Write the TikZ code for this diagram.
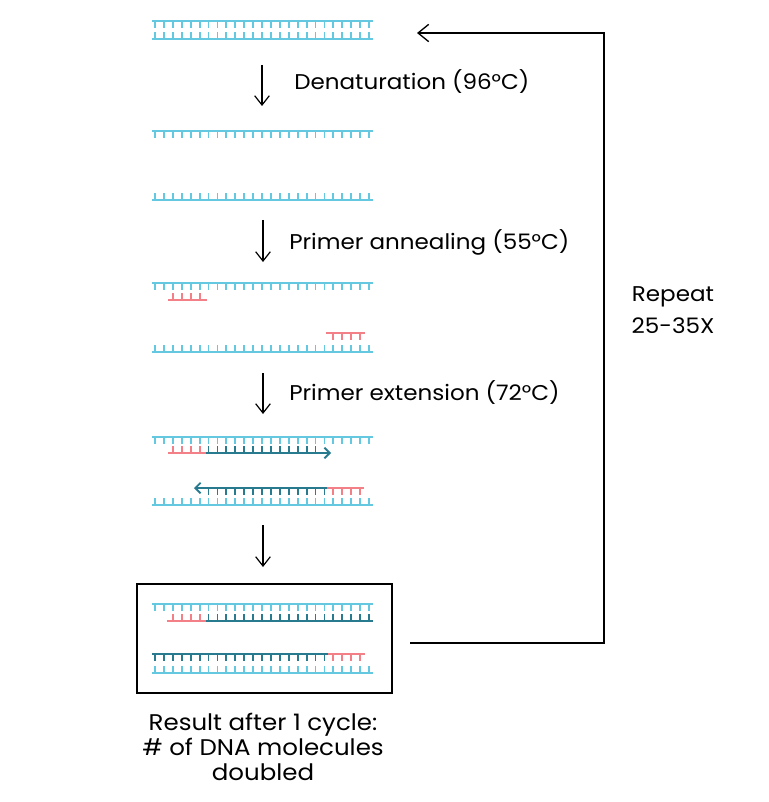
\documentclass[tikz,border=0pt]{standalone}
\usepackage{fontspec}
\setmainfont[FakeStretch=1.08]{Poppins}
\usetikzlibrary{arrows.meta}

\definecolor{dnablue}{RGB}{100,200,225}
\definecolor{primerred}{RGB}{242,128,134}
\definecolor{newteal}{RGB}{40,122,142}

\tikzset{
  strand/.style={line width=1.4pt},
  flow/.style={-{Straight Barb[length=7pt,width=11pt]}, line width=0.9pt},
  growth/.style={-{Straight Barb[length=4pt,width=8pt]}},
  label/.style={anchor=west, inner sep=0pt}
}

% colour, y, x from, x to, first tick, last tick, tick length
\newcommand{\dnastrand}[7]{%
  \draw[strand,#1] (#3,#2) -- (#4,#2);
  \foreach \k in {#5,...,#6}
    \draw[strand,#1,-] ({155+8.92*\k},#2) -- ++(0,#7);
}

\begin{document}
\begin{tikzpicture}[x=0.75pt, y=-0.75pt, font=\fontsize{16}{19}\selectfont]
\useasboundingbox (0,0) rectangle (768,802);

% double strand
\dnastrand{dnablue}{21}{152}{373}{0}{24}{7}
\dnastrand{dnablue}{39}{152}{373}{0}{24}{-7}

% denatured
\dnastrand{dnablue}{131}{152}{373}{0}{24}{7}
\dnastrand{dnablue}{200}{152}{373}{0}{24}{-7}

% annealed primers
\dnastrand{dnablue}{283}{152}{373}{0}{24}{7}
\dnastrand{primerred}{300}{168}{207}{2}{5}{-7}
\dnastrand{primerred}{333}{326}{365}{20}{23}{7}
\dnastrand{dnablue}{352}{152}{373}{0}{24}{-7}

% extension
\dnastrand{dnablue}{437}{152}{373}{0}{24}{7}
\dnastrand{primerred}{453}{168}{206}{2}{5}{-7}
\dnastrand{newteal,growth}{453}{206}{331}{6}{18}{-7}
\dnastrand{newteal,growth}{488}{327}{194}{6}{19}{7}
\dnastrand{primerred}{488}{327}{364}{20}{23}{7}
\dnastrand{dnablue}{505}{152}{373}{0}{24}{-7}

% result
\node (result) [draw, line width=1.4pt, minimum width=191pt, minimum height=81.75pt,
  inner sep=0pt] at (264.5,638.5) {};
\dnastrand{dnablue}{604}{152}{373}{0}{24}{7}
\dnastrand{primerred}{621}{167}{206}{2}{5}{-7}
\dnastrand{newteal}{621}{206}{373}{6}{24}{-7}
\dnastrand{newteal}{654}{152}{328}{0}{19}{7}
\dnastrand{primerred}{654}{328}{365}{20}{23}{7}
\dnastrand{dnablue}{673}{152}{373}{0}{24}{-7}

% steps
\coordinate (den a) at (262,65);  \coordinate (den b) at (262,106);
\coordinate (ann a) at (263,220); \coordinate (ann b) at (263,262);
\coordinate (ext a) at (263,373); \coordinate (ext b) at (263,414);
\coordinate (res a) at (263,525); \coordinate (res b) at (263,567);
\draw[flow] (den a) -- (den b);
\draw[flow] (ann a) -- (ann b);
\draw[flow] (ext a) -- (ext b);
\draw[flow] (res a) -- (res b);

\node[label] (denat) at (294,82) {Denaturation (96°C)};
\node[label] (anneal) at (289,242) {Primer annealing (55°C)};
\node[label] (extend) at (289,393) {Primer extension (72°C)};

\node[align=center, inner sep=0pt, font=\fontsize{17}{19}\selectfont] (outcome) at (263,747)
  {Result after 1 cycle:\\\# of DNA molecules\\doubled};

% repeat loop
\coordinate (loop a) at (410,643);
\coordinate (loop turn) at (604,33);
\coordinate (loop b) at (417,33);
\draw[line width=1pt, -{Straight Barb[length=8pt,width=13pt]}]
  (loop a) -| (loop turn) -- (loop b);
\node[align=center, inner sep=0pt] (repeat) at (673,310) {Repeat\\[5pt]25-35X};

\end{tikzpicture}
\end{document}
